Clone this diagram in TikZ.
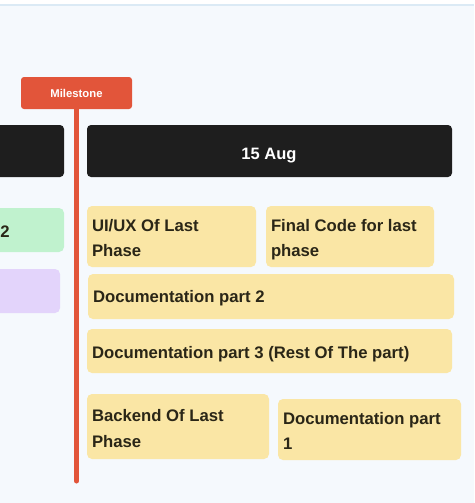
\documentclass[tikz,border=0pt]{standalone}
\usepackage{fontspec}
\setmainfont{Liberation Sans}
\definecolor{bgc}{HTML}{F5F9FD}
\definecolor{topline}{HTML}{DBEAF5}
\definecolor{mileC}{HTML}{E2553A}
\definecolor{blackC}{HTML}{1E1E1E}
\definecolor{yellowC}{HTML}{FAE6A5}
\definecolor{greenC}{HTML}{C0F2CE}
\definecolor{purpleC}{HTML}{E3D4FB}
\definecolor{textC}{HTML}{2A2617}
\tikzset{
  x=1pt, y=1pt,
  boxbase/.style={inner sep=0pt, outer sep=0pt, draw=none},
  ybox/.style={boxbase, fill=yellowC, rounded corners=5pt},
  hbox/.style={boxbase, fill=blackC, rounded corners=4pt},
  gbox/.style={boxbase, fill=greenC, rounded corners=5pt},
  pbox/.style={boxbase, fill=purpleC, rounded corners=5pt},
  mile/.style={boxbase, fill=mileC, rounded corners=3pt, text=white, font=\bfseries\fontsize{11.3}{13}\selectfont},
  lbl/.style={inner sep=0pt, outer sep=0pt, anchor=base west, text=textC, font=\bfseries\fontsize{16.7}{20}\selectfont},
  hlbl/.style={inner sep=0pt, outer sep=0pt, anchor=base, text=white, font=\bfseries\fontsize{16.5}{20}\selectfont},
  mline/.style={draw=mileC, line width=5pt, line cap=round}
}
\begin{document}
\begin{tikzpicture}
\useasboundingbox (0,0) rectangle (474,-503);
\fill[bgc] (0,0) rectangle (474,-503);
\fill[white] (0,0) rectangle (474,-4);
\fill[topline] (0,-4) rectangle (474,-6.5);
% header bars
\node[hbox, minimum width=84, minimum height=52] (hleft) at (22,-151) {};
\node[hbox, minimum width=365, minimum height=52] (hright) at (269.5,-151) {};
\node[hlbl] (aug) at (269,-159) {15 Aug};
% left side boxes
\node[gbox, minimum width=84, minimum height=44] (green) at (22,-230) {};
\node[lbl] (greenT) at (0.5,-237) {2};
\node[pbox, minimum width=80, minimum height=44] (purple) at (20,-291) {};
% yellow task boxes
\node[ybox, minimum width=169, minimum height=61] (uiux) at (171.5,-236.5) {};
\node[ybox, minimum width=168, minimum height=61] (final) at (350,-236.5) {};
\node[ybox, minimum width=366, minimum height=45] (doc2) at (271,-296.5) {};
\node[ybox, minimum width=365, minimum height=44] (doc3) at (269.5,-351) {};
\node[ybox, minimum width=182, minimum height=65] (backend) at (178,-426.5) {};
\node[ybox, minimum width=183, minimum height=61] (doc1) at (369.5,-429.5) {};
\node[lbl] (uiuxA) at (92,-231) {UI/UX Of Last};
\node[lbl] (uiuxB) at (92,-256) {Phase};
\node[lbl] (finalA) at (271,-231) {Final Code for last};
\node[lbl] (finalB) at (271,-256) {phase};
\node[lbl] (doc2T) at (93,-302.5) {Documentation part 2};
\node[lbl] (doc3T) at (92,-358) {Documentation part 3 (Rest Of The part)};
\node[lbl] (backendA) at (92,-421.5) {Backend Of Last};
\node[lbl] (backendB) at (92,-447) {Phase};
\node[lbl] (doc1A) at (283,-424) {Documentation part};
\node[lbl] (doc1B) at (283,-449) {1};
% milestone
\node[mile, minimum width=111, minimum height=32] (ms) at (76.5,-93) {Milestone};
\coordinate (msend) at (76.5,-481);
\draw[mline] (ms.south) -- (msend);
\end{tikzpicture}
\end{document}
